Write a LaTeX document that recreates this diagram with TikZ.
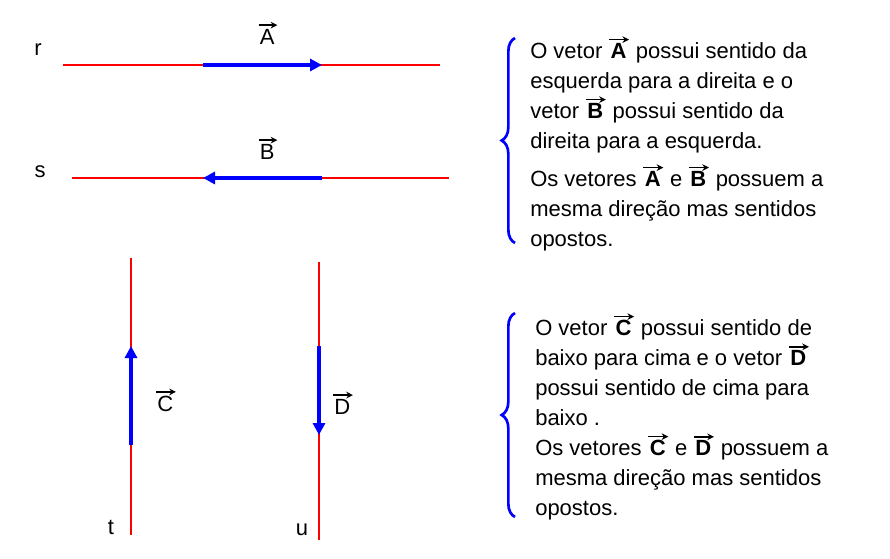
\documentclass[tikz,border=0pt]{standalone}
\usepackage{fontspec}
\setmainfont{Liberation Sans}
\usetikzlibrary{decorations.pathreplacing,arrows.meta}
\newcommand\vv[1]{\tikz[baseline=(x.base)]{\node[inner sep=0pt,outer sep=0pt](x){#1}; \draw[black,line width=1pt,-{Stealth[length=5pt,width=5pt]}] ([yshift=3pt,xshift=-1pt]x.north west) -- ([yshift=3pt,xshift=2pt]x.north east);}}
\begin{document}
\begin{tikzpicture}[x=0.75pt,y=-0.75pt,
  redline/.style={draw=red,line width=0.8pt},
  vecarrow/.style={blue,line width=3pt,-{Triangle[length=9pt,width=9pt]}},
  brc/.style={blue,line width=2pt,decorate,decoration={brace,amplitude=10pt}},
  txt/.style={anchor=north west,align=left,font=\fontsize{16.5}{22.5}\selectfont,inner sep=0pt},
  lbl/.style={font=\fontsize{16.5}{18}\selectfont,inner sep=0pt}]
\useasboundingbox (0,0) rectangle (890,558);
% r
\node[lbl] (r) at (38,50) {r};
\coordinate (r1) at (63,65); \coordinate (r2) at (440,65);
\draw[redline] (r1) -- (r2);
\coordinate (a1) at (203,65); \coordinate (a2) at (322,65);
\draw[vecarrow] (a1) -- (a2);
\node[lbl] (A) at (268,33) {\vv{A}};
% s
\node[lbl] (s) at (40,172) {s};
\coordinate (s1) at (72,178); \coordinate (s2) at (449,178);
\draw[redline] (s1) -- (s2);
\coordinate (b1) at (322,178); \coordinate (b2) at (203,178);
\draw[vecarrow] (b1) -- (b2);
\node[lbl] (B) at (268,148) {\vv{B}};
% t
\coordinate (t1) at (131,258); \coordinate (t2) at (131,535);
\draw[redline] (t1) -- (t2);
\coordinate (c1) at (131,445); \coordinate (c2) at (131,346);
\draw[vecarrow] (c1) -- (c2);
\node[lbl] (C) at (166,400) {\vv{C}};
\node[lbl] (t) at (111,527) {t};
% u
\coordinate (u1) at (319,262); \coordinate (u2) at (319,540);
\draw[redline] (u1) -- (u2);
\coordinate (d1) at (319,346); \coordinate (d2) at (319,435);
\draw[vecarrow] (d1) -- (d2);
\node[lbl] (D) at (343,403) {\vv{D}};
\node[lbl] (u) at (302,530) {u};
% braces
\coordinate (br1a) at (515,243); \coordinate (br1b) at (515,38);
\draw[brc] (br1a) -- (br1b);
\coordinate (br2a) at (515,517); \coordinate (br2b) at (515,313);
\draw[brc] (br2a) -- (br2b);
% texts
\node[txt] (T1) at (530,36) {O vetor \textbf{\vv{A}} possui sentido da\\
esquerda para a direita e o\\
vetor \textbf{\vv{B}} possui sentido da\\
direita para a esquerda.\\[6pt]
Os vetores \textbf{\vv{A}} e \textbf{\vv{B}} possuem a\\
mesma direção mas sentidos\\
opostos.};
\node[txt] (T2) at (535,313) {O vetor \textbf{\vv{C}} possui sentido de\\
baixo para cima e o vetor \textbf{\vv{D}}\\
possui sentido de cima para\\
baixo .\\
Os vetores \textbf{\vv{C}} e \textbf{\vv{D}} possuem a\\
mesma direção mas sentidos\\
opostos.};
\end{tikzpicture}
\end{document}
